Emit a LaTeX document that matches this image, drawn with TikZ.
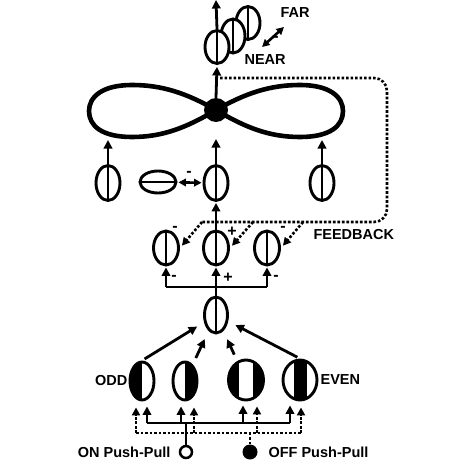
\documentclass[tikz,border=0pt]{standalone}
\usepackage{fontspec}
\setmainfont{Liberation Sans}
\usetikzlibrary{positioning,arrows.meta,shapes.geometric}

\tikzset{
  cellbase/.style={ellipse,draw=black,line width=2.9pt,fill=white,inner sep=0pt,
            minimum width=24pt,minimum height=35pt},
  rf/.style={cellbase,path picture={\draw[black,line width=2.8pt]
            (path picture bounding box.north)--(path picture bounding box.south);}},
  rfh/.style={cellbase,minimum width=36pt,minimum height=22pt,path picture={\draw[black,line width=2.8pt]
            (path picture bounding box.west)--(path picture bounding box.east);}},
  oddl/.style={cellbase,minimum height=38pt,path picture={\fill[black]
            (path picture bounding box.south west) rectangle (path picture bounding box.north);}},
  oddr/.style={cellbase,minimum height=38pt,path picture={\fill[black]
            (path picture bounding box.south) rectangle (path picture bounding box.north east);}},
  evenw/.style={cellbase,minimum width=35pt,minimum height=40pt,path picture={\fill[black]
            (path picture bounding box.south west) rectangle (path picture bounding box.north east);
            \fill[white]([xshift=-7pt]path picture bounding box.south) rectangle
            ([xshift=7pt]path picture bounding box.north);}},
  evenb/.style={cellbase,minimum width=34pt,minimum height=40pt,path picture={\fill[black]
            ([xshift=-6.5pt]path picture bounding box.south) rectangle
            ([xshift=6.5pt]path picture bounding box.north);}},
}

\begin{document}
\begin{tikzpicture}[x=1pt,y=-1pt,font=\bfseries\fontsize{14.5}{16}\selectfont,
  a/.style={-{Triangle[length=8.5pt,width=8.5pt]},line width=2.8pt},
  aa/.style={{Triangle[length=7.5pt,width=7.5pt]}-{Triangle[length=7.5pt,width=7.5pt]},line width=2.6pt},
  ln/.style={line width=2.8pt},
  fb/.style={line width=2.6pt,dash pattern=on 2.6pt off 1.9pt},
  sg/.style={font=\bfseries\fontsize{16}{16}\selectfont,inner sep=0pt}]
\useasboundingbox (0,0) rectangle (474,476);
% depth stack at the top, back to front
\node[rf,minimum height=33pt](far) at (248,23){};
\node[rf,minimum height=34pt](mid) at (233,36){};
\node[rf,minimum height=33pt](near) at (217,47){};
\coordinate (top) at (216,0);
\draw[a](near.north)--(top);
\node[anchor=west](farlbl) at (277,13){FAR};
\node[anchor=west](nearlbl) at (241,60){NEAR};
\coordinate (nf1) at (262,47); \coordinate (nf2) at (284,27);
\draw[aa](nf1)--(nf2);
\node[sg](nfm) at (276,39){-};
% figure eight with hub
\node[circle,fill=black,inner sep=0pt,minimum size=24pt](hub) at (216,110){};
\draw[line width=4.6pt,line join=round]
  (hub.center) .. controls (246,93) and (270,85) .. (300,85)
  .. controls (330,85) and (343,97) .. (343,111)
  .. controls (343,126) and (330,137) .. (300,137)
  .. controls (270,137) and (246,128) .. (hub.center)
  .. controls (186,93) and (162,85) .. (132,85)
  .. controls (102,85) and (89,97) .. (89,111)
  .. controls (89,126) and (102,137) .. (132,137)
  .. controls (162,137) and (186,128) .. (hub.center);
\draw[a,shorten >=2pt](hub.north)--(near.south);
% row under the figure eight
\node[rf](l4l) at (108,183){};
\node[rfh](hz) at (158,182){};
\node[rf](l4m) at (216,183){};
\node[rf](l4r) at (322,183){};
\coordinate (lobeL) at (108,140);
\coordinate (lobeM) at (216,139);
\coordinate (lobeR) at (322,140);
\draw[a](l4l.north)--(lobeL);
\draw[a](l4m.north)--(lobeM);
\draw[a](l4r.north)--(lobeR);
\draw[aa,shorten <=1pt,shorten >=1pt](hz)--(l4m);
\node[sg](hzm) at (189,174){-};
% feedback loop
\coordinate (fbtop) at (220,78);
\coordinate (fbright) at (387,222);
\coordinate (fb1) at (202,222);
\coordinate (fb2) at (253,222);
\coordinate (fb3) at (303,222);
\draw[fb,rounded corners=13pt](fbtop)-|(fbright)--(fb1);
\node[anchor=west](fblbl) at (310,235){FEEDBACK};
% competing row
\node[rf,minimum width=25pt,minimum height=34pt](l3l) at (166,248){};
\node[rf,minimum width=25pt,minimum height=34pt](l3m) at (216,248){};
\node[rf,minimum width=25pt,minimum height=34pt](l3r) at (267,248){};
\draw[fb,-{Triangle[length=8pt,width=8pt]},shorten >=3pt](fb1)--(l3l.east);
\draw[fb,-{Triangle[length=8pt,width=8pt]},shorten >=3pt](fb2)--(l3m.east);
\draw[fb,-{Triangle[length=8pt,width=8pt]},shorten >=3pt](fb3)--(l3r.east);
\node[sg](s1) at (175,229){-};
\node[sg](s2) at (232,232){+};
\node[sg](s3) at (283,229){-};
\draw[a,shorten >=1pt](l3m)--(l4m);
% fan-out bracket
\node[rf,minimum width=23pt,minimum height=36pt](l2) at (216,315){};
\coordinate (brl) at (166,287);
\coordinate (brr) at (267,287);
\draw[ln](brl)--(brr);
\draw[a,shorten >=1pt](brl)--(l3l);
\draw[a,shorten >=1pt](brr)--(l3r);
\draw[a,shorten >=1pt](l2)--(l3m);
\node[sg](t1) at (174,278){-};
\node[sg](t2) at (228,278){+};
\node[sg](t3) at (276,278){-};
% odd and even cells
\node[oddl](b1) at (142,381){};
\node[oddr](b2) at (185,381){};
\node[evenw](b3) at (246,380){};
\node[evenb](b4) at (300,380){};
\node[anchor=east,inner sep=1pt](oddlbl) at (b1.west){ODD};
\node[anchor=west,inner sep=2pt](evenlbl) at (b4.east){EVEN};
\draw[a,shorten <=3pt,shorten >=8pt](b1.north)--(l2);
\draw[a,shorten <=7pt,shorten >=9pt](b2)--(l2);
\draw[a,shorten <=7pt,shorten >=9pt](b3)--(l2);
\draw[a,shorten <=3pt,shorten >=8pt](b4.north)--(l2);
% push-pull inputs
\node[circle,draw=black,line width=2.5pt,fill=white,inner sep=0pt,minimum size=12pt](on) at (186,452){};
\node[circle,fill=black,inner sep=0pt,minimum size=15pt](off) at (250,452){};
\node[anchor=east](onlbl) at (174,452){ON Push-Pull};
\node[anchor=west](offlbl) at (265,452){OFF Push-Pull};
\coordinate (on1) at (147,423); \coordinate (on2) at (181,423);
\coordinate (on3) at (243,423); \coordinate (on4) at (290,423);
\coordinate (of1) at (136,433); \coordinate (of2) at (194,433);
\coordinate (of3) at (257,433); \coordinate (of4) at (301,433);
\draw[ln](on1)--(on4);
\draw[ln](on)--(on|-on1);
\draw[fb](of1)--(of4);
\draw[fb](off)--(off|-of1);
\draw[a,shorten >=5pt](on1)--(on1|-b1.south);
\draw[a,shorten >=5pt](on2)--(on2|-b2.south);
\draw[a,shorten >=4pt](on3)--(on3|-b3.south);
\draw[a,shorten >=4pt](on4)--(on4|-b4.south);
\draw[fb,-{Triangle[length=8pt,width=8pt]},shorten >=6pt](of1)--(of1|-b1.south);
\draw[fb,-{Triangle[length=8pt,width=8pt]},shorten >=6pt](of2)--(of2|-b2.south);
\draw[fb,-{Triangle[length=8pt,width=8pt]},shorten >=5pt](of3)--(of3|-b3.south);
\draw[fb,-{Triangle[length=8pt,width=8pt]},shorten >=6pt](of4)--(of4|-b4.south);
\end{tikzpicture}
\end{document}
